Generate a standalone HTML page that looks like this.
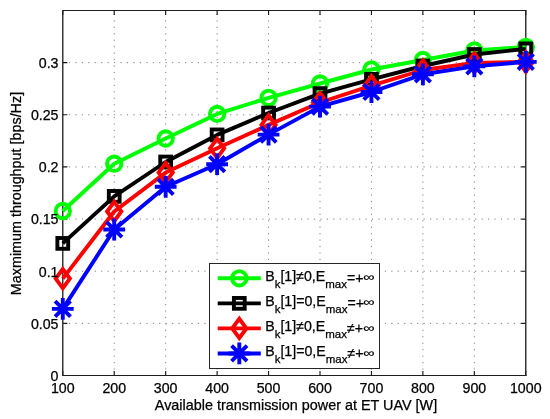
<!DOCTYPE html>
<html><head><meta charset="utf-8"><style>
html,body{margin:0;padding:0;background:#fff;}
svg{display:block;}
.t{font-family:"Liberation Sans",Arial,sans-serif;font-size:14.2px;fill:#000;stroke:#000;stroke-width:0.25px;}
.s{font-size:11.5px;}
.inf{font-size:12px;}
</style></head><body>
<svg width="550" height="419" viewBox="0 0 550 419">
<rect width="550" height="419" fill="#fff"/>
<path d="M114.22,375.5V10.5M165.67,375.5V10.5M217.11,375.5V10.5M268.56,375.5V10.5M320.0,375.5V10.5M371.45,375.5V10.5M422.89,375.5V10.5M474.34,375.5V10.5" stroke="#808080" stroke-width="1" stroke-dasharray="1.2,5.247" stroke-dashoffset="0.6" fill="none"/>
<path d="M62.78,323.36H525.78M62.78,271.21H525.78M62.78,219.07H525.78M62.78,166.93H525.78M62.78,114.79H525.78M62.78,62.64H525.78" stroke="#808080" stroke-width="1" stroke-dasharray="1.2,5.247" stroke-dashoffset="0.3" fill="none"/>
<path d="M62.78,375.5v-4.6M62.78,10.5v4.6M114.22,375.5v-4.6M114.22,10.5v4.6M165.67,375.5v-4.6M165.67,10.5v4.6M217.11,375.5v-4.6M217.11,10.5v4.6M268.56,375.5v-4.6M268.56,10.5v4.6M320.00,375.5v-4.6M320.00,10.5v4.6M371.45,375.5v-4.6M371.45,10.5v4.6M422.89,375.5v-4.6M422.89,10.5v4.6M474.34,375.5v-4.6M474.34,10.5v4.6M525.78,375.5v-4.6M525.78,10.5v4.6M62.78,375.50h4.6M525.78,375.50h-4.6M62.78,323.36h4.6M525.78,323.36h-4.6M62.78,271.21h4.6M525.78,271.21h-4.6M62.78,219.07h4.6M525.78,219.07h-4.6M62.78,166.93h4.6M525.78,166.93h-4.6M62.78,114.79h4.6M525.78,114.79h-4.6M62.78,62.64h4.6M525.78,62.64h-4.6" stroke="#1a1a1a" stroke-width="1.15" fill="none"/>
<path d="M62.08,10.5H526.48M62.08,375.5H526.48" stroke="#1e1e1e" stroke-width="1" fill="none"/>
<path d="M62.78,10.5V376.0M525.78,10.5V376.0" stroke="#222" stroke-width="1.35" fill="none"/>
<polyline points="62.78,211.00 114.22,163.70 165.67,138.50 217.11,113.90 268.56,97.80 320.00,83.50 371.45,69.50 422.89,60.00 474.34,50.50 525.78,47.00" fill="none" stroke="#00ff00" stroke-width="3.9" stroke-linejoin="round"/>
<circle cx="62.78" cy="211.00" r="7.2" fill="none" stroke="#00ff00" stroke-width="3.9"/>
<circle cx="114.22" cy="163.70" r="7.2" fill="none" stroke="#00ff00" stroke-width="3.9"/>
<circle cx="165.67" cy="138.50" r="7.2" fill="none" stroke="#00ff00" stroke-width="3.9"/>
<circle cx="217.11" cy="113.90" r="7.2" fill="none" stroke="#00ff00" stroke-width="3.9"/>
<circle cx="268.56" cy="97.80" r="7.2" fill="none" stroke="#00ff00" stroke-width="3.9"/>
<circle cx="320.00" cy="83.50" r="7.2" fill="none" stroke="#00ff00" stroke-width="3.9"/>
<circle cx="371.45" cy="69.50" r="7.2" fill="none" stroke="#00ff00" stroke-width="3.9"/>
<circle cx="422.89" cy="60.00" r="7.2" fill="none" stroke="#00ff00" stroke-width="3.9"/>
<circle cx="474.34" cy="50.50" r="7.2" fill="none" stroke="#00ff00" stroke-width="3.9"/>
<circle cx="525.78" cy="47.00" r="7.2" fill="none" stroke="#00ff00" stroke-width="3.9"/>
<polyline points="62.78,243.40 114.22,196.40 165.67,162.00 217.11,134.90 268.56,113.00 320.00,93.60 371.45,79.30 422.89,66.00 474.34,54.50 525.78,48.90" fill="none" stroke="#000000" stroke-width="3.9" stroke-linejoin="round"/>
<rect x="57.38" y="238.00" width="10.8" height="10.8" fill="none" stroke="#000000" stroke-width="3.9"/>
<rect x="108.82" y="191.00" width="10.8" height="10.8" fill="none" stroke="#000000" stroke-width="3.9"/>
<rect x="160.27" y="156.60" width="10.8" height="10.8" fill="none" stroke="#000000" stroke-width="3.9"/>
<rect x="211.71" y="129.50" width="10.8" height="10.8" fill="none" stroke="#000000" stroke-width="3.9"/>
<rect x="263.16" y="107.60" width="10.8" height="10.8" fill="none" stroke="#000000" stroke-width="3.9"/>
<rect x="314.60" y="88.20" width="10.8" height="10.8" fill="none" stroke="#000000" stroke-width="3.9"/>
<rect x="366.05" y="73.90" width="10.8" height="10.8" fill="none" stroke="#000000" stroke-width="3.9"/>
<rect x="417.49" y="60.60" width="10.8" height="10.8" fill="none" stroke="#000000" stroke-width="3.9"/>
<rect x="468.94" y="49.10" width="10.8" height="10.8" fill="none" stroke="#000000" stroke-width="3.9"/>
<rect x="520.38" y="43.50" width="10.8" height="10.8" fill="none" stroke="#000000" stroke-width="3.9"/>
<polyline points="62.78,278.60 114.22,211.50 165.67,172.60 217.11,148.30 268.56,124.90 320.00,102.50 371.45,85.70 422.89,70.00 474.34,62.90 525.78,62.00" fill="none" stroke="#ff0000" stroke-width="3.9" stroke-linejoin="round"/>
<path d="M55.68,278.60L62.78,269.00L69.88,278.60L62.78,288.20Z" fill="none" stroke="#ff0000" stroke-width="3.9" stroke-linejoin="miter"/>
<path d="M107.12,211.50L114.22,201.90L121.32,211.50L114.22,221.10Z" fill="none" stroke="#ff0000" stroke-width="3.9" stroke-linejoin="miter"/>
<path d="M158.57,172.60L165.67,163.00L172.77,172.60L165.67,182.20Z" fill="none" stroke="#ff0000" stroke-width="3.9" stroke-linejoin="miter"/>
<path d="M210.01,148.30L217.11,138.70L224.21,148.30L217.11,157.90Z" fill="none" stroke="#ff0000" stroke-width="3.9" stroke-linejoin="miter"/>
<path d="M261.46,124.90L268.56,115.30L275.66,124.90L268.56,134.50Z" fill="none" stroke="#ff0000" stroke-width="3.9" stroke-linejoin="miter"/>
<path d="M312.90,102.50L320.00,92.90L327.10,102.50L320.00,112.10Z" fill="none" stroke="#ff0000" stroke-width="3.9" stroke-linejoin="miter"/>
<path d="M364.35,85.70L371.45,76.10L378.55,85.70L371.45,95.30Z" fill="none" stroke="#ff0000" stroke-width="3.9" stroke-linejoin="miter"/>
<path d="M415.79,70.00L422.89,60.40L429.99,70.00L422.89,79.60Z" fill="none" stroke="#ff0000" stroke-width="3.9" stroke-linejoin="miter"/>
<path d="M467.24,62.90L474.34,53.30L481.44,62.90L474.34,72.50Z" fill="none" stroke="#ff0000" stroke-width="3.9" stroke-linejoin="miter"/>
<path d="M518.68,62.00L525.78,52.40L532.88,62.00L525.78,71.60Z" fill="none" stroke="#ff0000" stroke-width="3.9" stroke-linejoin="miter"/>
<polyline points="62.78,308.90 114.22,229.50 165.67,186.80 217.11,164.20 268.56,134.60 320.00,106.60 371.45,92.00 422.89,74.30 474.34,66.40 525.78,61.90" fill="none" stroke="#0000ff" stroke-width="3.9" stroke-linejoin="round"/>
<path d="M51.88,308.90H73.68M62.78,298.00V319.80M55.07,301.19L70.49,316.61M55.07,316.61L70.49,301.19" stroke="#0000ff" stroke-width="3.9" fill="none"/>
<path d="M103.32,229.50H125.12M114.22,218.60V240.40M106.52,221.79L121.93,237.21M106.52,237.21L121.93,221.79" stroke="#0000ff" stroke-width="3.9" fill="none"/>
<path d="M154.77,186.80H176.57M165.67,175.90V197.70M157.96,179.09L173.38,194.51M157.96,194.51L173.38,179.09" stroke="#0000ff" stroke-width="3.9" fill="none"/>
<path d="M206.21,164.20H228.01M217.11,153.30V175.10M209.41,156.49L224.82,171.91M209.41,171.91L224.82,156.49" stroke="#0000ff" stroke-width="3.9" fill="none"/>
<path d="M257.66,134.60H279.46M268.56,123.70V145.50M260.85,126.89L276.27,142.31M260.85,142.31L276.27,126.89" stroke="#0000ff" stroke-width="3.9" fill="none"/>
<path d="M309.10,106.60H330.90M320.00,95.70V117.50M312.29,98.89L327.71,114.31M312.29,114.31L327.71,98.89" stroke="#0000ff" stroke-width="3.9" fill="none"/>
<path d="M360.55,92.00H382.35M371.45,81.10V102.90M363.74,84.29L379.15,99.71M363.74,99.71L379.15,84.29" stroke="#0000ff" stroke-width="3.9" fill="none"/>
<path d="M411.99,74.30H433.79M422.89,63.40V85.20M415.18,66.59L430.60,82.01M415.18,82.01L430.60,66.59" stroke="#0000ff" stroke-width="3.9" fill="none"/>
<path d="M463.44,66.40H485.24M474.34,55.50V77.30M466.63,58.69L482.04,74.11M466.63,74.11L482.04,58.69" stroke="#0000ff" stroke-width="3.9" fill="none"/>
<path d="M514.88,61.90H536.68M525.78,51.00V72.80M518.07,54.19L533.49,69.61M518.07,69.61L533.49,54.19" stroke="#0000ff" stroke-width="3.9" fill="none"/>
<g class="t"><text x="62.78" y="392.5" text-anchor="middle">100</text>
<text x="114.22" y="392.5" text-anchor="middle">200</text>
<text x="165.67" y="392.5" text-anchor="middle">300</text>
<text x="217.11" y="392.5" text-anchor="middle">400</text>
<text x="268.56" y="392.5" text-anchor="middle">500</text>
<text x="320.00" y="392.5" text-anchor="middle">600</text>
<text x="371.45" y="392.5" text-anchor="middle">700</text>
<text x="422.89" y="392.5" text-anchor="middle">800</text>
<text x="474.34" y="392.5" text-anchor="middle">900</text>
<text x="525.78" y="392.5" text-anchor="middle">1000</text>
<text x="58.5" y="380.90" text-anchor="end">0</text>
<text x="58.5" y="328.76" text-anchor="end">0.05</text>
<text x="58.5" y="276.61" text-anchor="end">0.1</text>
<text x="58.5" y="224.47" text-anchor="end">0.15</text>
<text x="58.5" y="172.33" text-anchor="end">0.2</text>
<text x="58.5" y="120.19" text-anchor="end">0.25</text>
<text x="58.5" y="68.04" text-anchor="end">0.3</text>
<text x="296" y="409.6" text-anchor="middle" style="font-size:14.4px">Available transmission power at ET UAV [W]</text>
<text transform="translate(21.4,193.5) rotate(-90)" text-anchor="middle" style="font-size:14.35px">Maxmimum throughput [bps/Hz]</text></g>
<rect x="209.5" y="263.5" width="170" height="105" fill="#fff" stroke="#262626" stroke-width="1"/>
<path d="M217.7,278.30H260.8" stroke="#00ff00" stroke-width="3.9"/>
<circle cx="239.30" cy="278.30" r="7.2" fill="none" stroke="#00ff00" stroke-width="3.9"/>
<text x="265.2" y="280.90" class="t">B<tspan class="s" dy="6.6">k</tspan><tspan dy="-6.6">[1]≠0,E</tspan><tspan class="s" dy="6.6">max</tspan><tspan dy="-4.7">=+</tspan></text>
<text transform="translate(363.2,281.40) scale(1,0.72)" class="t" style="font-size:16px">∞</text>
<path d="M217.7,303.35H260.8" stroke="#000000" stroke-width="3.9"/>
<rect x="233.90" y="297.95" width="10.8" height="10.8" fill="none" stroke="#000000" stroke-width="3.9"/>
<text x="265.2" y="305.95" class="t">B<tspan class="s" dy="6.6">k</tspan><tspan dy="-6.6">[1]=0,E</tspan><tspan class="s" dy="6.6">max</tspan><tspan dy="-4.7">=+</tspan></text>
<text transform="translate(363.2,306.45) scale(1,0.72)" class="t" style="font-size:16px">∞</text>
<path d="M217.7,328.40H260.8" stroke="#ff0000" stroke-width="3.9"/>
<path d="M232.20,328.40L239.30,318.80L246.40,328.40L239.30,338.00Z" fill="none" stroke="#ff0000" stroke-width="3.9" stroke-linejoin="miter"/>
<text x="265.2" y="331.00" class="t">B<tspan class="s" dy="6.6">k</tspan><tspan dy="-6.6">[1]≠0,E</tspan><tspan class="s" dy="6.6">max</tspan><tspan dy="-4.7">≠+</tspan></text>
<text transform="translate(363.2,331.50) scale(1,0.72)" class="t" style="font-size:16px">∞</text>
<path d="M217.7,353.45H260.8" stroke="#0000ff" stroke-width="3.9"/>
<path d="M228.40,353.45H250.20M239.30,342.55V364.35M231.59,345.74L247.01,361.16M231.59,361.16L247.01,345.74" stroke="#0000ff" stroke-width="3.9" fill="none"/>
<text x="265.2" y="356.05" class="t">B<tspan class="s" dy="6.6">k</tspan><tspan dy="-6.6">[1]=0,E</tspan><tspan class="s" dy="6.6">max</tspan><tspan dy="-4.7">≠+</tspan></text>
<text transform="translate(363.2,356.55) scale(1,0.72)" class="t" style="font-size:16px">∞</text>
</svg>
</body></html>
